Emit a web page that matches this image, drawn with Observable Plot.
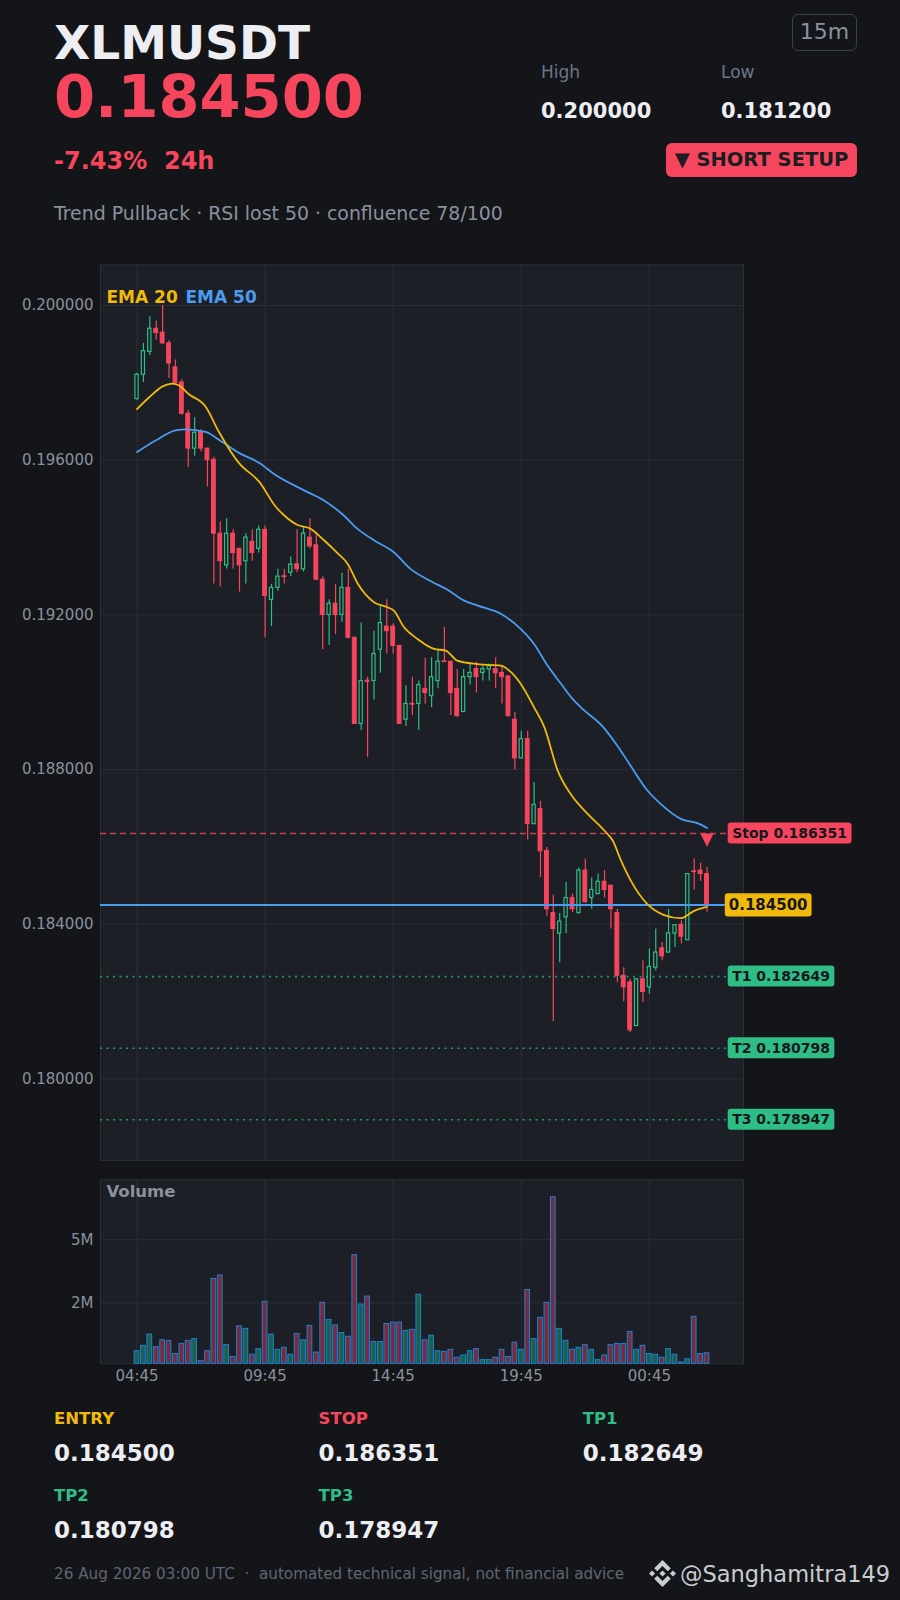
<!DOCTYPE html>
<html><head><meta charset="utf-8">
<script src="https://cdn.jsdelivr.net/npm/d3@7"></script>
<script src="https://cdn.jsdelivr.net/npm/@observablehq/plot@0.6"></script>
<style>
html,body{margin:0;padding:0;background:#141519;}
#page{position:relative;width:900px;height:1600px;background:#141519;font-family:"DejaVu Sans",sans-serif;overflow:hidden;}
.abs{position:absolute;line-height:1;white-space:pre;}
.box{position:absolute;box-sizing:border-box;display:flex;align-items:center;justify-content:center;line-height:1;white-space:pre;}
</style></head>
<body><div id="page"></div>
<script>
// ---------- data ----------
const symbol = "XLMUSDT";
const lastPrice = 0.1845;
const changePct = "-7.43%";
const changeWindow = "24h";
const dayHigh = 0.2;
const dayLow = 0.1812;
const timeframe = "15m";
const setupText = "▼ SHORT SETUP";
const subtitle = "Trend Pullback · RSI lost 50 · confluence 78/100";
const footerText = "26 Aug 2026 03:00 UTC  ·  automated technical signal, not financial advice";
const handle = "@Sanghamitra149";

const startTime = Date.UTC(2026, 7, 25, 4, 45);
const interval = 15 * 60 * 1000;

const opens = [0.19758,0.19821,0.19880,0.19940,0.19930,0.19902,0.19840,0.19801,0.19720,0.19630,
0.19673,0.19630,0.19601,0.19410,0.19328,0.19410,0.19371,0.19339,0.19389,0.19371,
0.19420,0.19239,0.19270,0.19300,0.19309,0.19331,0.19318,0.19400,0.19380,0.19291,
0.19200,0.19229,0.19200,0.19270,0.19141,0.18918,0.19030,0.19029,0.19110,0.19170,
0.19170,0.19120,0.18929,0.18970,0.18970,0.19009,0.18990,0.19029,0.19080,0.19079,
0.19009,0.18949,0.19039,0.19060,0.19050,0.19059,0.19060,0.19050,0.19041,0.18929,
0.18829,0.18879,0.18659,0.18698,0.18590,0.18429,0.18376,0.18418,0.18468,0.18429,
0.18539,0.18468,0.18478,0.18510,0.18500,0.18429,0.18267,0.18250,0.18137,0.18258,
0.18237,0.18288,0.18338,0.18327,0.18376,0.18399,0.18359,0.18537,0.18539,0.18530];
const highs = [0.19825,0.19902,0.19971,0.19960,0.20000,0.19909,0.19859,0.19809,0.19729,0.19710,
0.19679,0.19631,0.19608,0.19440,0.19449,0.19420,0.19372,0.19410,0.19420,0.19430,
0.19430,0.19279,0.19318,0.19318,0.19350,0.19420,0.19427,0.19449,0.19410,0.19299,
0.19239,0.19279,0.19308,0.19318,0.19142,0.19179,0.19039,0.19158,0.19224,0.19239,
0.19177,0.19121,0.19017,0.19039,0.19029,0.19088,0.19089,0.19108,0.19168,0.19080,
0.19059,0.19059,0.19073,0.19078,0.19067,0.19073,0.19089,0.19067,0.19042,0.18948,
0.18899,0.18899,0.18767,0.18718,0.18599,0.18476,0.18428,0.18508,0.18478,0.18546,
0.18569,0.18520,0.18530,0.18539,0.18501,0.18439,0.18288,0.18258,0.18259,0.18306,
0.18336,0.18388,0.18353,0.18439,0.18399,0.18409,0.18531,0.18569,0.18558,0.18547];
const lows = [0.19755,0.19801,0.19871,0.19910,0.19900,0.19811,0.19798,0.19716,0.19581,0.19610,
0.19621,0.19531,0.19280,0.19272,0.19319,0.19319,0.19259,0.19280,0.19339,0.19360,
0.19141,0.19170,0.19261,0.19280,0.19299,0.19309,0.19311,0.19371,0.19289,0.19110,
0.19121,0.19149,0.19181,0.19138,0.18917,0.18901,0.18832,0.18980,0.19049,0.19099,
0.19099,0.18917,0.18911,0.18940,0.18901,0.18970,0.18960,0.19009,0.19078,0.18940,
0.18937,0.18948,0.19019,0.18998,0.19029,0.19029,0.19009,0.18970,0.18937,0.18799,
0.18828,0.18618,0.18658,0.18521,0.18420,0.18149,0.18301,0.18376,0.18430,0.18427,
0.18455,0.18439,0.18477,0.18468,0.18388,0.18250,0.18200,0.18120,0.18136,0.18198,
0.18219,0.18280,0.18306,0.18326,0.18340,0.18349,0.18358,0.18489,0.18511,0.18431];
const closes = [0.19821,0.19882,0.19940,0.19929,0.19902,0.19850,0.19800,0.19720,0.19630,0.19671,
0.19630,0.19600,0.19410,0.19339,0.19410,0.19360,0.19328,0.19400,0.19360,0.19420,
0.19249,0.19270,0.19299,0.19298,0.19330,0.19318,0.19410,0.19377,0.19291,0.19200,
0.19229,0.19200,0.19270,0.19141,0.18918,0.19029,0.19027,0.19099,0.19179,0.19158,
0.19120,0.18918,0.18970,0.18968,0.19019,0.18998,0.19039,0.19079,0.19078,0.18998,
0.18938,0.19039,0.19050,0.19039,0.19060,0.19067,0.19049,0.19039,0.18938,0.18829,
0.18879,0.18659,0.18709,0.18589,0.18439,0.18388,0.18407,0.18468,0.18439,0.18539,
0.18457,0.18489,0.18510,0.18489,0.18439,0.18267,0.18237,0.18126,0.18258,0.18225,
0.18290,0.18327,0.18317,0.18377,0.18398,0.18368,0.18530,0.18535,0.18530,0.18450];
const volumesM = [0.99,1.07,1.26,1.05,1.16,1.15,0.95,1.10,1.15,1.18,
0.86,0.99,2.83,2.98,1.08,0.91,1.42,1.37,0.94,1.02,
2.03,1.26,1.01,1.04,0.94,1.27,1.16,1.43,0.97,2.00,
1.56,1.44,1.29,1.22,4.00,1.95,2.19,1.13,1.13,1.47,
1.50,1.50,1.33,1.35,2.25,1.16,1.24,0.99,0.98,1.01,
0.90,0.93,0.99,1.02,0.87,0.87,0.90,1.01,0.91,1.12,
1.01,2.41,1.18,1.61,2.00,9.30,1.37,1.15,1.01,1.04,
1.08,1.01,0.87,0.93,1.08,1.10,1.10,1.31,1.01,1.07,
0.95,0.94,0.90,1.02,0.94,0.84,0.88,1.63,0.95,0.96];

// EMA readings (candle index, value)
const ema20Idx = [0,2,4,5.5,6.6,8,10.7,12.8,15.9,19.1,21.7,23,25,27.1,29.2,31.3,32.9,34.5,37,39.1,40.1,41.7,43.8,46.4,48.2,50,53.2,56.8,58.4,59.9,62,63.6,65.7,67.8,70.4,73,74.3,75.6,77.1,79.7,82.3,84.9,87,89];
const ema20Val = [0.19732,0.19764,0.19791,0.19798,0.19793,0.19772,0.19739,0.19673,0.19593,0.19544,0.19479,0.19457,0.19433,0.19423,0.19393,0.19360,0.19332,0.19280,0.19233,0.19220,0.19211,0.19168,0.19138,0.19112,0.19108,0.19082,0.19073,0.19069,0.19052,0.19022,0.18961,0.18910,0.18797,0.18735,0.18685,0.18642,0.18616,0.18564,0.18513,0.18452,0.18424,0.18416,0.18435,0.18445];
const ema50Idx = [0,2.9,6,7.6,10.7,13.3,15.9,19.1,21.7,26.1,29.2,32.3,34.4,37,40.1,42.7,45.9,48.5,51.1,53.2,56.8,59.9,62,64.1,66.2,68,69.3,72.8,75,77,79.7,81.8,85,87.6,89];
const ema50Val = [0.19621,0.19651,0.19677,0.19680,0.19673,0.19647,0.19619,0.19593,0.19561,0.19522,0.19496,0.19457,0.19423,0.19393,0.19362,0.19319,0.19287,0.19265,0.19237,0.19224,0.19203,0.19164,0.19125,0.19069,0.19022,0.18983,0.18961,0.18910,0.18862,0.18812,0.18746,0.18711,0.18672,0.18661,0.18649];

const entryPrice = 0.1845;
const stopPrice = 0.186351;
const targetNames = ["T1","T2","T3"];
const targetPrices = [0.182649, 0.180798, 0.178947];

const priceTicks = [0.18, 0.184, 0.188, 0.192, 0.196, 0.2];
const volumeTicks = [2e6, 5e6];
const timeTickIdx = [0, 20, 40, 60, 80];

const statLabels = ["ENTRY","STOP","TP1","TP2","TP3"];
const statValues = [0.184500, 0.186351, 0.182649, 0.180798, 0.178947];

// ---------- style ----------
const C = {
  page:"#141519", panel:"#1c1f26", grid:"#2a2e38", text:"#8a919e", dim:"#6e7583", white:"#eceef2",
  green:"#2ebd85", red:"#f6465d", yellow:"#f0b90b", blue:"#4a9cf0", volRed:"#7a2b3b", volGreen:"#1e5f49",
  volStroke:"#1e80d0", dark:"#16181d"
};
const statColors = [C.yellow, C.red, C.green, C.green, C.green];

const page = document.getElementById("page");
function addDiv(text, css, cls="abs") {
  const d = document.createElement("div");
  d.className = cls; d.textContent = text;
  Object.assign(d.style, css);
  page.appendChild(d); return d;
}

// ---------- header ----------
addDiv(symbol, {left:"54px", top:"23.1px", fontSize:"47px", lineHeight:"0.85", fontWeight:"bold", color:C.white});
addDiv(lastPrice.toFixed(6), {left:"54px", top:"71.8px", fontSize:"59px", lineHeight:"0.85", fontWeight:"bold", color:C.red});
addDiv(changePct + "  " + changeWindow, {left:"54px", top:"148.7px", fontSize:"24px", fontWeight:"bold", color:C.red});
addDiv(subtitle, {left:"54px", top:"204.3px", fontSize:"18.9px", color:C.text});
addDiv("High", {left:"541px", top:"64.2px", fontSize:"17px", color:C.dim});
addDiv("Low", {left:"721px", top:"64.2px", fontSize:"17px", color:C.dim});
addDiv(dayHigh.toFixed(6), {left:"541px", top:"100.5px", fontSize:"21px", fontWeight:"bold", color:C.white});
addDiv(dayLow.toFixed(6), {left:"721px", top:"100.5px", fontSize:"21px", fontWeight:"bold", color:C.white});
addDiv(timeframe, {left:"792px", top:"14px", width:"65px", height:"36.7px", border:"1.3px solid #3a3f4a", borderRadius:"6px", fontSize:"22px", color:C.text}, "box");
addDiv(setupText, {left:"666px", top:"143.3px", width:"191px", height:"33.4px", background:C.red, borderRadius:"6px", fontSize:"19.5px", fontWeight:"bold", color:"#1b1d23"}, "box");

// ---------- chart data ----------
const candles = opens.map((o, i) => ({
  t: new Date(startTime + i * interval), o, h: highs[i], l: lows[i], c: closes[i],
  v: volumesM[i] * 1e6, up: closes[i] >= o
}));
const ema20 = ema20Idx.map((k, i) => ({t: new Date(startTime + k * interval), v: ema20Val[i]}));
const ema50 = ema50Idx.map((k, i) => ({t: new Date(startTime + k * interval), v: ema50Val[i]}));
const timeTicks = timeTickIdx.map(k => new Date(startTime + k * interval));
const lastT = candles[candles.length - 1].t;
const pad = 5.7 * interval;
const xDomain = [new Date(startTime - pad), new Date(+lastT + pad)];
const span = d3.max(highs) - d3.min(targetPrices);
const yDomain = [d3.min(targetPrices) - 0.05 * span, d3.max(highs) + 0.05 * span];

const levelLabels = [
  {label: `Stop ${stopPrice.toFixed(6)}`, p: stopPrice, bg: C.red},
  ...targetNames.map((n, i) => ({label: `${n} ${targetPrices[i].toFixed(6)}`, p: targetPrices[i], bg: C.green}))
];
const entryLabel = [{label: entryPrice.toFixed(6), p: entryPrice, bg: C.yellow}];

const downTriangle = {draw(ctx) { ctx.moveTo(-6.6, 0); ctx.lineTo(6.6, 0); ctx.lineTo(0, 13.3); ctx.closePath(); }};
const half = f => d => new Date(+d.t - f * interval);
const halfR = f => d => new Date(+d.t + f * interval);

const baseStyle = {background:"transparent", color:C.text, fontFamily:"DejaVu Sans", fontSize:"15px", overflow:"visible"};

const priceChart = Plot.plot({
  width: 900, height: 920, marginLeft: 100, marginRight: 157, marginTop: 24.3, marginBottom: 0,
  style: baseStyle,
  x: {type: "utc", domain: xDomain, axis: null, label: null},
  y: {domain: yDomain, ticks: priceTicks, tickFormat: d => d.toFixed(6), tickSize: 0, tickPadding: 7, label: null},
  marks: [
    Plot.frame({fill: C.panel, stroke: C.grid}),
    Plot.ruleY(priceTicks, {stroke: C.grid, strokeWidth: 1}),
    Plot.ruleX(timeTicks, {stroke: C.grid, strokeWidth: 1}),
    Plot.ruleX(candles, {x: "t", y1: "l", y2: "h", stroke: d => d.up ? C.green : C.red, strokeWidth: 1.2}),
    Plot.rect(candles.filter(d => !d.up), {x1: half(0.3), x2: halfR(0.3), y1: "o", y2: "c", fill: C.red, stroke: C.red, strokeWidth: 1}),
    Plot.rect(candles.filter(d => d.up), {x1: half(0.25), x2: halfR(0.25), y1: "o", y2: "c", fill: C.panel, stroke: C.green, strokeWidth: 1.2}),
    Plot.ruleY([stopPrice], {stroke: C.red, strokeOpacity: 0.8, strokeWidth: 1.5, strokeDasharray: "6,4"}),
    Plot.ruleY(targetPrices, {stroke: C.green, strokeOpacity: 0.75, strokeWidth: 1.6, strokeDasharray: "2,4.5"}),
    Plot.ruleY([entryPrice], {stroke: C.blue, strokeWidth: 1.8}),
    Plot.line(ema50, {x: "t", y: "v", stroke: C.blue, strokeWidth: 1.8, curve: "monotone-x"}),
    Plot.line(ema20, {x: "t", y: "v", stroke: C.yellow, strokeWidth: 1.8, curve: "monotone-x"}),
    Plot.dot([{t: lastT, p: stopPrice}], {x: "t", y: "p", symbol: downTriangle, fill: C.red, stroke: "none"}),
    Plot.text(levelLabels, {y: "p", text: "label", frameAnchor: "right", textAnchor: "start", dx: -11.3,
      fill: C.dark, fontWeight: "bold", fontSize: 14}),
    Plot.text(entryLabel, {y: "p", text: "label", frameAnchor: "right", textAnchor: "start", dx: -14.7,
      fill: C.dark, fontWeight: "bold", fontSize: 15}),
    Plot.text(["EMA 20"], {frameAnchor: "top-left", dx: 6, dy: 33, textAnchor: "start", lineAnchor: "middle", fill: C.yellow, fontWeight: "bold", fontSize: 17}),
    Plot.text(["EMA 50"], {frameAnchor: "top-left", dx: 85, dy: 33, textAnchor: "start", lineAnchor: "middle", fill: C.blue, fontWeight: "bold", fontSize: 17})
  ]
});
Object.assign(priceChart.style, {position: "absolute", left: "0px", top: "240px"});
page.appendChild(priceChart);

// background boxes behind the level labels (found by their text)
function addBoxes(svg, data, padX, h) {
  const texts = Array.from(svg.querySelectorAll("text"));
  data.forEach(item => {
    const t = texts.find(el => el.textContent.trim() === item.label);
    if (!t) return;
    const b = t.getBBox();
    const r = document.createElementNS("http://www.w3.org/2000/svg", "rect");
    r.setAttribute("x", b.x - padX);
    r.setAttribute("y", b.y + b.height / 2 - h / 2);
    r.setAttribute("width", b.width + 2 * padX);
    r.setAttribute("height", h);
    r.setAttribute("rx", 3);
    r.setAttribute("fill", item.bg);
    const tr = t.getAttribute("transform");
    if (tr) r.setAttribute("transform", tr);
    t.parentNode.insertBefore(r, t);
  });
}
addBoxes(priceChart, levelLabels, 4.5, 21);
addBoxes(priceChart, entryLabel, 4, 23.3);

const volLow = 0.824e6, volHigh = 11.97e6;
const volChart = Plot.plot({
  width: 900, height: 233, marginLeft: 100, marginRight: 157, marginTop: 19.3, marginBottom: 29.7,
  style: baseStyle,
  x: {type: "utc", domain: xDomain, ticks: timeTicks, tickFormat: d3.utcFormat("%H:%M"), tickSize: 0, tickPadding: 6.3, label: null},
  y: {type: "log", domain: [volLow, volHigh], ticks: volumeTicks, tickFormat: d => (d / 1e6) + "M", tickSize: 0, tickPadding: 7, label: null},
  marks: [
    Plot.frame({fill: C.panel, stroke: C.grid}),
    Plot.ruleY(volumeTicks, {stroke: C.grid, strokeWidth: 1}),
    Plot.ruleX(timeTicks, {stroke: C.grid, strokeWidth: 1}),
    Plot.rect(candles, {x1: half(0.37), x2: halfR(0.37), y1: () => volLow, y2: "v",
      fill: d => d.up ? C.volGreen : C.volRed, stroke: C.volStroke, strokeWidth: 1}),
    Plot.text(["Volume"], {frameAnchor: "top-left", dx: 6, dy: 12.4, textAnchor: "start", lineAnchor: "middle", fill: C.text, fontWeight: "bold", fontSize: 16.5})
  ]
});
Object.assign(volChart.style, {position: "absolute", left: "0px", top: "1160px"});
page.appendChild(volChart);

// ---------- stats ----------
const colX = [54, 318.6, 582.7];
statLabels.forEach((lab, i) => {
  const col = i % 3, row = Math.floor(i / 3);
  addDiv(lab, {left: colX[col] + "px", top: (1411 + row * 76.7) + "px", fontSize: "16.5px", fontWeight: "bold", color: statColors[i]});
  addDiv(statValues[i].toFixed(6), {left: colX[col] + "px", top: (1442.2 + row * 76.6) + "px", fontSize: "23px", fontWeight: "bold", color: C.white});
});

// ---------- footer ----------
addDiv(footerText, {left: "54px", top: "1567.3px", fontSize: "15.2px", color: "#5f6673"});
const logo = document.createElementNS("http://www.w3.org/2000/svg", "svg");
logo.setAttribute("viewBox", "0 0 126.61 126.61");
logo.setAttribute("width", "27"); logo.setAttribute("height", "27");
Object.assign(logo.style, {position: "absolute", left: "649px", top: "1560px"});
logo.innerHTML = `<g fill="#c9ccd1">
<polygon points="38.73 53.2 63.3 28.63 87.88 53.21 102.18 38.92 63.3 0.04 24.44 38.9 38.73 53.2"/>
<polygon points="0.04 63.31 14.33 49.01 28.63 63.3 14.33 77.6"/>
<polygon points="38.73 73.41 63.3 97.99 87.88 73.41 102.18 87.69 63.3 126.57 24.43 87.72 38.73 73.41"/>
<polygon points="97.99 63.31 112.28 49.01 126.58 63.3 112.28 77.6"/>
<polygon points="77.83 63.3 63.3 48.77 48.78 63.3 63.3 77.82 77.83 63.3"/></g>`;
page.appendChild(logo);
addDiv(handle, {left: "680px", top: "1562.7px", fontSize: "22.5px", color: "#c9ccd1"});
</script></body></html>
